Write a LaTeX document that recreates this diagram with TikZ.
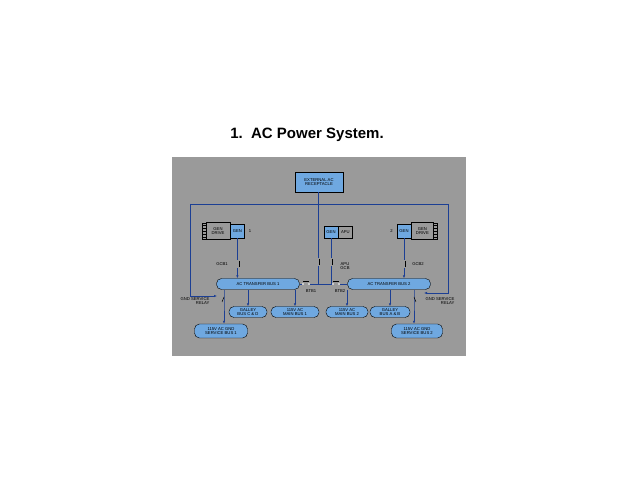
\documentclass[tikz,border=0pt]{standalone}
\usepackage{fontspec}
\setmainfont{Liberation Sans}
\usetikzlibrary{patterns}
\definecolor{panel}{HTML}{9A9A9A}
\definecolor{boxblue}{HTML}{6FA8E0}
\definecolor{wire}{HTML}{1C3F94}
\tikzset{
	lbl/.style={font=\fontsize{4.2}{4.6}\selectfont, align=center, inner sep=0pt},
	box/.style={draw=black, fill=boxblue, lbl, minimum height=11pt},
	bus/.style={draw=black, fill=boxblue, lbl, rounded corners=5pt, minimum height=11pt},
	wire/.style={draw=wire, line width=.9pt},
	feed/.style={wire, -{Latex[length=3pt,width=2.5pt]}}
}
\usetikzlibrary{arrows.meta}
\begin{document}
\begin{tikzpicture}[x=1pt, y=-1pt]
	\useasboundingbox (0,0) rectangle (638,478);
	\node[font=\bfseries\fontsize{15}{17}\selectfont] (title) at (307,135) {1.\ \ AC Power System.};
	\fill[panel] (172,157) rectangle (466,356);

	% sources
	\node[box, minimum width=48pt, minimum height=20pt] (ext) at (319,182) {EXTERNAL AC\\RECEPTACLE};
	\node[box, draw=black, fill=panel, minimum width=24pt, minimum height=17pt] (drv1) at (218,231) {GEN\\DRIVE};
	\node[box, minimum width=14pt, minimum height=14pt, anchor=west] (gen1) at (drv1.east) {GEN};
	\node[lbl, right=4pt] at (gen1.east) {1};
	\draw[pattern=horizontal lines] (202,223) rectangle (206,239);
	\node[box, minimum width=14pt, minimum height=12pt] (genapu) at (331,232) {GEN};
	\node[box, fill=panel, minimum width=14pt, minimum height=12pt, anchor=west] (apu) at (genapu.east) {APU};
	\node[box, minimum width=14pt, minimum height=14pt] (gen2) at (404,231) {GEN};
	\node[box, fill=panel, minimum width=22pt, minimum height=17pt, anchor=west] (drv2) at (gen2.east) {GEN\\DRIVE};
	\draw[pattern=horizontal lines] (433,223) rectangle (437,239);
	\node[lbl, left=4pt] at (gen2.west) {2};

	% transfer buses
	\node[bus, minimum width=83pt] (tb1) at (258,284) {AC TRANSFER BUS 1};
	\node[bus, minimum width=83pt] (tb2) at (389,284) {AC TRANSFER BUS 2};

	% load buses
	\node[bus, minimum width=38pt] (galcd) at (248,312) {GALLEY\\BUS C \& D};
	\node[bus, minimum width=48pt] (main1) at (295,312) {115V AC\\MAIN BUS 1};
	\node[bus, minimum width=42pt] (main2) at (347,312) {115V AC\\MAIN BUS 2};
	\node[bus, minimum width=40pt] (galab) at (390,312) {GALLEY\\BUS A \& B};
	\node[bus, minimum width=53pt, minimum height=14pt] (gs1) at (221,331) {115V AC GND\\SERVICE BUS 1};
	\node[bus, minimum width=51pt, minimum height=14pt] (gs2) at (417,331) {115V AC GND\\SERVICE BUS 2};

	% labels
	\node[lbl] (gcb1) at (222,264) {GCB1};
	\node[lbl] (gcb2) at (418,264) {GCB2};
	\node[lbl] (apugcb) at (345,266) {APU\\GCB};
	\node[lbl] (btb1) at (311,291) {BTB1};
	\node[lbl] (btb2) at (340,291) {BTB2};
	\node[lbl] (rly1) at (195,301) {GND SERVICE\\\hfill RELAY};
	\node[lbl] (rly2) at (440,301) {GND SERVICE\\\hfill RELAY};

	% wiring
	\coordinate (jL) at (190,204);
	\coordinate (jR) at (448,204);
	\coordinate (jE) at (318,204);
	\draw[wire] (jL) -- (jR);
	\draw[wire] (ext.south -| jE) -- (jE);
	\draw[feed] (jL) -- (190,296) -- (217,296);
	\draw[feed] (jR) -- (448,293) -- (424,293);
	\draw[wire] (jE) -- (318,284);
	\draw[wire] (tb1.east) -- (tb2.west);
	\draw[feed] (gen1.south) -- (gen1.south |- tb1.north);
	\draw[feed] (gen2.south) -- (gen2.south |- tb2.north);
	\draw[wire] (genapu.south) -- (genapu.south |- tb1.east);
	% breakers
	\foreach \x/\y in {238/264, 404/264, 318/262, 331/262}{
		\fill[panel] (\x-1.5,\y-4) rectangle (\x+1.5,\y+4);
		\draw[black, line width=.4pt] (\x+1.5,\y-3) -- (\x+1.5,\y+3);
	}
	\foreach \x in {306, 336}{
		\fill[panel] (\x-4,282) rectangle (\x+4,286);
		\draw[black, line width=.4pt] (\x-3,281) -- (\x+3,281);
		\fill[white] (\x-3,284) circle (.8pt) (\x+3,284) circle (.8pt);
	}
	% drops
	\draw[feed] (tb1.south -| galcd) -- (galcd.north);
	\draw[feed] (tb1.south -| main1.north) -- (main1.north);
	\draw[feed] (tb2.south -| main2.north) -- (main2.north);
	\draw[feed] (tb2.south -| galab.north) -- (galab.north);
	\draw[feed] (224,290) -- (224,301) -- (gs1.north -| 224,0);
	\draw[feed] (414,290) -- (414,301) -- (gs2.north -| 414,0);
	\draw[black, line width=.5pt] (224,297) -- (222,302) (414,297) -- (416,302);
\end{tikzpicture}
\end{document}
